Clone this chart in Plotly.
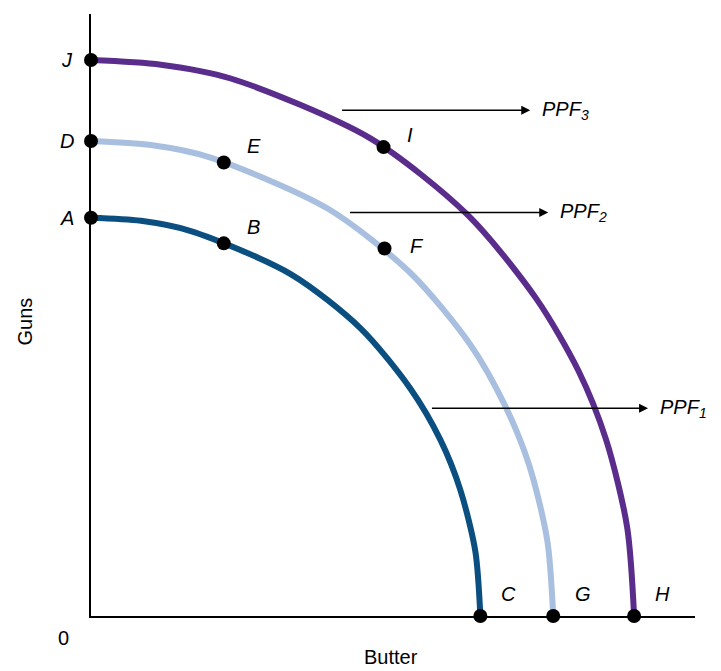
import plotly.graph_objects as go

# curves (butter, guns)
ppf1_x = [0, 5, 10, 20, 27, 32, 35, 37, 38.5, 39]
ppf1_y = [38.9, 38.6, 37.6, 33.4, 28.1, 22.2, 17.2, 12.3, 6.3, 0]
ppf2_x = [0, 6, 11.9, 23.7, 32, 38, 41.5, 43.9, 45.7, 46.3]
ppf2_y = [46.4, 46.0, 44.8, 39.8, 33.5, 26.5, 20.5, 14.7, 7.4, 0]
ppf3_x = [0, 7, 14, 27.9, 37.7, 44.6, 48.8, 51.6, 53.7, 54.4]
ppf3_y = [54.3, 53.85, 52.5, 46.7, 39.2, 31.0, 24.0, 17.2, 8.7, 0]

pt_names = ["A", "B", "C", "D", "E", "F", "G", "J", "I", "H"]
pt_x = [0, 13.3, 39, 0, 13.3, 29.4, 46.3, 0, 29.3, 54.4]
pt_y = [38.9, 36.4, 0, 46.4, 44.3, 35.9, 0, 54.3, 45.8, 0]
# label offsets in pixels
lbl_dx = [-24, 30, 28, -24, 30, 32, 30, -24, 26, 28]
lbl_dy = [0, 16, 22, 0, 16, 2, 22, 0, 12, 22]

arrows = [("PPF<sub>3</sub>", 25, 44, 49.4), ("PPF<sub>2</sub>", 25.8, 45.8, 39.4), ("PPF<sub>1</sub>", 34, 55.8, 20.3)]

fig = go.Figure()
for xs, ys, c in [(ppf1_x, ppf1_y, "#0b4f80"), (ppf2_x, ppf2_y, "#a9bfdf"), (ppf3_x, ppf3_y, "#5a2d8c")]:
    fig.add_trace(go.Scatter(x=xs, y=ys, mode="lines", line=dict(color=c, width=6, shape="spline", smoothing=0.8),
                             cliponaxis=False, hoverinfo="skip"))
fig.add_trace(go.Scatter(x=pt_x, y=pt_y, mode="markers", marker=dict(color="black", size=14),
                         cliponaxis=False))

font = dict(family="Liberation Sans", size=20, color="black")
ann = []
for n, x, y, dx, dy in zip(pt_names, pt_x, pt_y, lbl_dx, lbl_dy):
    ann.append(dict(x=x, y=y, text=f"<i>{n}</i>", showarrow=False, xshift=dx, yshift=dy, font=font))
for t, x0, x1, y in arrows:
    ann.append(dict(x=x1, y=y, ax=x0, ay=y, xref="x", yref="y", axref="x", ayref="y", text="",
                    showarrow=True, arrowhead=2, arrowsize=1.2, arrowwidth=1.5, arrowcolor="black"))
    ann.append(dict(x=x1, y=y, text=f"<i>{t}</i>", showarrow=False, xanchor="left", xshift=10, font=font))
ann.append(dict(x=0, y=0, text="0", showarrow=False, xshift=-28, yshift=-22, font=font))
ann.append(dict(xref="paper", yref="paper", x=-0.13, y=0.49, text="Guns", textangle=-90, showarrow=False, font=font))
ann.append(dict(xref="paper", yref="paper", x=0.496, y=-0.09, text="Butter", showarrow=False, font=font))

fig.update_layout(width=721, height=671, margin=dict(l=83, r=34, t=6, b=63),
                  plot_bgcolor="white", paper_bgcolor="white", showlegend=False, annotations=ann,
                  xaxis=dict(range=[0, 60.5], showgrid=False, zeroline=False, showticklabels=False,
                             showline=True, linecolor="black", linewidth=2, ticks=""),
                  yaxis=dict(range=[0, 58.8], showgrid=False, zeroline=False, showticklabels=False,
                             showline=True, linecolor="black", linewidth=2, ticks=""))
fig.write_html("out.html")
